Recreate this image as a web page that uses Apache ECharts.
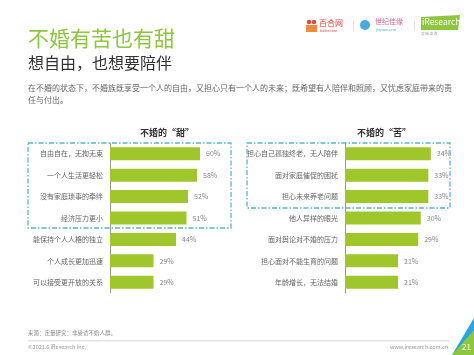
<!DOCTYPE html>
<html><head><meta charset="utf-8">
<script src="https://cdn.jsdelivr.net/npm/echarts@6/dist/echarts.min.js"></script>
<style>html,body{margin:0;padding:0;background:#fff}#c{width:474px;height:355px}</style>
</head><body><div id="c"></div>
<script>
var sweetCategories = ['自由自在，无拘无束','一个人生活更轻松','没有家庭琐事的牵绊','经济压力更小','能保持个人人格的独立','个人成长更加迅速','可以接受更开放的关系'];
var sweetValues = [60, 58, 52, 51, 44, 29, 29];
var bitterCategories = ['担心自己孤独终老，无人陪伴','面对家庭催促的困扰','担心未来养老问题','他人异样的眼光','面对舆论对不婚的压力','担心面对不能生育的问题','年龄增长，无法结婚'];
var bitterValues = [34, 33, 33, 30, 29, 21, 21];
var sweetTitle = '不婚的“甜”';
var bitterTitle = '不婚的“苦”';

var FONT = '"Noto Sans CJK SC", "Noto Sans", sans-serif';
var GREEN = '#9fc72c';
var BOX = '#58b6c6';

var chart = echarts.init(document.getElementById('c'), null, {renderer: 'canvas'});

function yAx(idx, cats) {
  return {
    type: 'category', gridIndex: idx, data: cats, inverse: true,
    axisLine: {show: true, lineStyle: {color: '#9a9a9a', width: 1}},
    axisTick: {show: false},
    axisLabel: {color: '#666', fontSize: 7, fontFamily: FONT, margin: 7}
  };
}
function xAx(idx, max) {
  return {type: 'value', gridIndex: idx, min: 0, max: max, show: false, splitLine: {show: false}};
}
function bar(idx, vals) {
  return {
    type: 'bar', xAxisIndex: idx, yAxisIndex: idx, data: vals, barWidth: 13,
    itemStyle: {color: GREEN}, silent: true,
    label: {show: true, position: 'right', formatter: '{c}%', color: '#888', fontSize: 7, fontFamily: FONT, distance: 6}
  };
}

var option = {
  animation: false,
  textStyle: {fontFamily: FONT},
  grid: [
    {left: 110, top: 143, width: 150, height: 150},
    {left: 345, top: 143, width: 101, height: 150}
  ],
  xAxis: [xAx(0, 100), xAx(1, 40)],
  yAxis: [yAx(0, sweetCategories), yAx(1, bitterCategories)],
  series: [bar(0, sweetValues), bar(1, bitterValues)],
  graphic: [
    {type: 'text', left: 28, top: 28, style: {text: '不婚有苦也有甜', fill: '#8dc63f', fontSize: 21, fontFamily: FONT}},
    {type: 'text', left: 28, top: 55, style: {text: '想自由，也想要陪伴', fill: '#333', fontSize: 16, fontFamily: FONT}},
    {type: 'text', left: 28, top: 83.5, style: {text: '在不婚的状态下，不婚族既享受一个人的自由，又担心只有一个人的未来；既希望有人陪伴和照顾，又忧虑家庭带来的责', fill: '#666', fontSize: 8, fontFamily: FONT}},
    {type: 'text', left: 28, top: 95.5, style: {text: '任与付出。', fill: '#666', fontSize: 8, fontFamily: FONT}},
    // logos
    {type: 'circle', shape: {cx: 309, cy: 22, r: 2.2}, style: {fill: '#e8423a'}},
    {type: 'circle', shape: {cx: 314, cy: 22, r: 2.2}, style: {fill: '#e8423a'}},
    {type: 'rect', shape: {x: 306, y: 25, width: 11, height: 7}, style: {fill: '#f08a3c'}},
    {type: 'text', left: 319, top: 19, style: {text: '百合网', fill: '#e8423a', fontSize: 8, fontFamily: FONT}},
    {type: 'text', left: 320, top: 29, style: {text: 'baihe.com', fill: '#e8423a', fontSize: 3.5, fontFamily: FONT}},
    {type: 'rect', shape: {x: 353, y: 21, width: 0.6, height: 10}, style: {fill: '#ccc'}},
    {type: 'circle', shape: {cx: 365, cy: 25, r: 5}, style: {fill: '#4aa8de'}},
    {type: 'text', left: 375, top: 18, style: {text: '世纪佳缘', fill: '#e05a8a', fontSize: 7, fontFamily: FONT}},
    {type: 'text', left: 376, top: 28, style: {text: 'jiayuan.com', fill: '#4aa8de', fontSize: 3.5, fontFamily: FONT}},
    {type: 'rect', shape: {x: 414, y: 21, width: 0.6, height: 10}, style: {fill: '#ccc'}},
    {type: 'polygon', shape: {points: [[421, 17], [460, 15], [458, 30], [421, 30]]}, style: {fill: '#8dc63f'}},
    {type: 'text', left: 422, top: 18, style: {text: 'iResearch', fill: '#fff', fontSize: 8.5, fontFamily: FONT}},
    {type: 'text', left: 421, top: 32, style: {text: '艾 瑞 咨 询', fill: '#999', fontSize: 3.5, fontFamily: FONT}},
    // sub-chart titles
    {type: 'text', left: 140, top: 128, style: {text: sweetTitle, fill: '#333', fontSize: 9, fontWeight: 'bold', fontFamily: FONT, align: 'center', verticalAlign: 'middle'}},
    {type: 'text', left: 357, top: 128, style: {text: bitterTitle, fill: '#333', fontSize: 9, fontWeight: 'bold', fontFamily: FONT, align: 'center', verticalAlign: 'middle'}},
    // dashed boxes
    {type: 'rect', shape: {x: 28, y: 143, width: 203, height: 85}, style: {fill: 'none', stroke: BOX, lineWidth: 1.3, lineDash: [5, 2, 1.5, 2]}, z: 10},
    {type: 'rect', shape: {x: 247, y: 143, width: 203, height: 65}, style: {fill: 'none', stroke: BOX, lineWidth: 1.3, lineDash: [5, 2, 1.5, 2]}, z: 10},
    // footer
    {type: 'text', left: 28, top: 330, style: {text: '来源：定量研究：非受访不婚人群。', fill: '#888', fontSize: 5.5, fontFamily: FONT}},
    {type: 'rect', shape: {x: 28, y: 340.5, width: 421, height: 0.8}, style: {fill: '#c8c8c8'}},
    {type: 'text', left: 28, top: 344, style: {text: '©2021.6 iResearch Inc.', fill: '#999', fontSize: 5.5, fontFamily: FONT}},
    {type: 'text', left: 390, top: 344, style: {text: 'www.iresearch.com.cn', fill: '#999', fontSize: 5.5, fontFamily: FONT}},
    {type: 'polygon', shape: {points: [[474, 318], [474, 340], [458, 355], [452, 355]]}, style: {fill: '#2aa6df'}},
    {type: 'polygon', shape: {points: [[474, 330], [474, 355], [452, 355]]}, style: {fill: '#8dc63f'}},
    {type: 'text', left: 462, top: 343, style: {text: '21', fill: '#fff', fontSize: 8, fontFamily: FONT}}
  ]
};
chart.setOption(option);
</script>
</body></html>
